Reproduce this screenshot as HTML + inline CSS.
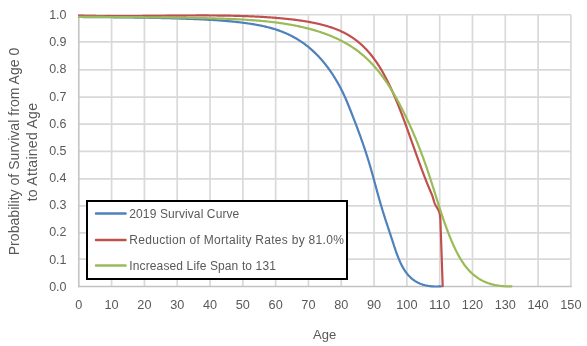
<!DOCTYPE html>
<html><head><meta charset="utf-8"><style>
html,body{margin:0;padding:0;background:#fff;}
body{width:587px;height:346px;overflow:hidden;}
svg{display:block;filter:blur(0.35px);}
text{font-family:"Liberation Sans",sans-serif;fill:#595959;}
</style></head><body>
<svg width="587" height="346" viewBox="0 0 587 346">
<rect width="587" height="346" fill="#fff"/>
<g stroke="#d9d9d9" stroke-width="1.7" fill="none">
<line x1="78.80" y1="259.20" x2="570.90" y2="259.20"/>
<line x1="78.80" y1="232.90" x2="570.90" y2="232.90"/>
<line x1="78.80" y1="205.90" x2="570.90" y2="205.90"/>
<line x1="78.80" y1="178.90" x2="570.90" y2="178.90"/>
<line x1="78.80" y1="151.35" x2="570.90" y2="151.35"/>
<line x1="78.80" y1="124.20" x2="570.90" y2="124.20"/>
<line x1="78.80" y1="97.06" x2="570.90" y2="97.06"/>
<line x1="78.80" y1="69.90" x2="570.90" y2="69.90"/>
<line x1="78.80" y1="41.90" x2="570.90" y2="41.90"/>
<line x1="78.80" y1="14.77" x2="570.90" y2="14.77"/>
<line x1="111.61" y1="14.80" x2="111.61" y2="286.50"/>
<line x1="144.41" y1="14.80" x2="144.41" y2="286.50"/>
<line x1="177.22" y1="14.80" x2="177.22" y2="286.50"/>
<line x1="210.03" y1="14.80" x2="210.03" y2="286.50"/>
<line x1="242.84" y1="14.80" x2="242.84" y2="286.50"/>
<line x1="275.64" y1="14.80" x2="275.64" y2="286.50"/>
<line x1="308.45" y1="14.80" x2="308.45" y2="286.50"/>
<line x1="341.26" y1="14.80" x2="341.26" y2="286.50"/>
<line x1="374.06" y1="14.80" x2="374.06" y2="286.50"/>
<line x1="406.87" y1="14.80" x2="406.87" y2="286.50"/>
<line x1="439.68" y1="14.80" x2="439.68" y2="286.50"/>
<line x1="472.48" y1="14.80" x2="472.48" y2="286.50"/>
<line x1="505.29" y1="14.80" x2="505.29" y2="286.50"/>
<line x1="538.10" y1="14.80" x2="538.10" y2="286.50"/>
<line x1="570.90" y1="14.80" x2="570.90" y2="286.50"/>
</g>
<line x1="78.8" y1="14" x2="78.8" y2="287.3" stroke="#c6c6c6" stroke-width="1.7"/>
<line x1="78" y1="286.5" x2="571.7" y2="286.5" stroke="#c2c2c2" stroke-width="1.7"/>
<g font-size="12" text-anchor="end">
<text x="66.5" y="290.80" textLength="17.35" lengthAdjust="spacingAndGlyphs">0.0</text>
<text x="66.5" y="263.63" textLength="17.35" lengthAdjust="spacingAndGlyphs">0.1</text>
<text x="66.5" y="236.45" textLength="17.35" lengthAdjust="spacingAndGlyphs">0.2</text>
<text x="66.5" y="209.28" textLength="17.35" lengthAdjust="spacingAndGlyphs">0.3</text>
<text x="66.5" y="182.10" textLength="17.35" lengthAdjust="spacingAndGlyphs">0.4</text>
<text x="66.5" y="154.93" textLength="17.35" lengthAdjust="spacingAndGlyphs">0.5</text>
<text x="66.5" y="127.75" textLength="17.35" lengthAdjust="spacingAndGlyphs">0.6</text>
<text x="66.5" y="100.58" textLength="17.35" lengthAdjust="spacingAndGlyphs">0.7</text>
<text x="66.5" y="73.40" textLength="17.35" lengthAdjust="spacingAndGlyphs">0.8</text>
<text x="66.5" y="46.22" textLength="17.35" lengthAdjust="spacingAndGlyphs">0.9</text>
<text x="66.5" y="19.05" textLength="17.35" lengthAdjust="spacingAndGlyphs">1.0</text>
</g>
<g font-size="12" text-anchor="middle">
<text x="78.80" y="308.8" textLength="7.07" lengthAdjust="spacingAndGlyphs">0</text>
<text x="111.61" y="308.8" textLength="14.14" lengthAdjust="spacingAndGlyphs">10</text>
<text x="144.41" y="308.8" textLength="14.14" lengthAdjust="spacingAndGlyphs">20</text>
<text x="177.22" y="308.8" textLength="14.14" lengthAdjust="spacingAndGlyphs">30</text>
<text x="210.03" y="308.8" textLength="14.14" lengthAdjust="spacingAndGlyphs">40</text>
<text x="242.84" y="308.8" textLength="14.14" lengthAdjust="spacingAndGlyphs">50</text>
<text x="275.64" y="308.8" textLength="14.14" lengthAdjust="spacingAndGlyphs">60</text>
<text x="308.45" y="308.8" textLength="14.14" lengthAdjust="spacingAndGlyphs">70</text>
<text x="341.26" y="308.8" textLength="14.14" lengthAdjust="spacingAndGlyphs">80</text>
<text x="374.06" y="308.8" textLength="14.14" lengthAdjust="spacingAndGlyphs">90</text>
<text x="406.87" y="308.8" textLength="21.22" lengthAdjust="spacingAndGlyphs">100</text>
<text x="439.68" y="308.8" textLength="21.22" lengthAdjust="spacingAndGlyphs">110</text>
<text x="472.48" y="308.8" textLength="21.22" lengthAdjust="spacingAndGlyphs">120</text>
<text x="505.29" y="308.8" textLength="21.22" lengthAdjust="spacingAndGlyphs">130</text>
<text x="538.10" y="308.8" textLength="21.22" lengthAdjust="spacingAndGlyphs">140</text>
<text x="570.90" y="308.8" textLength="21.22" lengthAdjust="spacingAndGlyphs">150</text>
</g>
<text x="324.6" y="339" font-size="13" text-anchor="middle">Age</text>
<g transform="translate(19,151.45) rotate(-90)"><text x="0" y="0" font-size="14" text-anchor="middle" textLength="207.7" lengthAdjust="spacing">Probability of Survival from Age 0</text></g>
<g transform="translate(37.3,152.2) rotate(-90)"><text x="0" y="0" font-size="14" text-anchor="middle" textLength="98.3" lengthAdjust="spacing">to Attained Age</text></g>
<g fill="none" stroke-width="2.2" stroke-linejoin="round" stroke-linecap="round">
<path stroke="#4F81BD" d="M79.00 17.00 L80.05 17.01 L81.09 17.02 L82.14 17.02 L83.19 17.03 L84.23 17.04 L85.28 17.05 L86.32 17.05 L87.37 17.06 L88.42 17.07 L89.46 17.08 L90.51 17.08 L91.55 17.09 L92.60 17.10 L93.65 17.11 L94.69 17.12 L95.74 17.12 L96.78 17.13 L97.83 17.14 L98.87 17.15 L99.92 17.16 L100.97 17.17 L102.01 17.18 L103.06 17.18 L104.10 17.19 L105.15 17.20 L106.19 17.21 L107.23 17.22 L108.28 17.23 L109.32 17.24 L110.37 17.25 L111.41 17.26 L112.46 17.27 L113.50 17.28 L114.54 17.29 L115.59 17.30 L116.63 17.31 L117.67 17.32 L118.71 17.33 L119.76 17.35 L120.80 17.36 L121.84 17.37 L122.88 17.38 L123.92 17.39 L124.97 17.41 L126.01 17.42 L127.05 17.43 L128.09 17.45 L129.13 17.46 L130.17 17.47 L131.21 17.49 L132.25 17.50 L133.29 17.52 L134.33 17.53 L135.37 17.55 L136.41 17.56 L137.44 17.58 L138.48 17.59 L139.52 17.61 L140.56 17.62 L141.59 17.64 L142.63 17.66 L143.67 17.68 L144.70 17.69 L145.74 17.71 L146.77 17.73 L147.81 17.75 L148.84 17.77 L149.88 17.79 L150.91 17.81 L151.95 17.83 L152.98 17.85 L154.01 17.87 L155.04 17.89 L156.08 17.91 L157.11 17.94 L158.14 17.96 L159.17 17.98 L160.20 18.01 L161.23 18.03 L162.26 18.05 L163.29 18.08 L164.32 18.10 L165.35 18.13 L166.37 18.16 L167.40 18.18 L168.43 18.21 L169.45 18.24 L170.48 18.27 L171.50 18.29 L172.53 18.32 L173.55 18.35 L174.58 18.38 L175.60 18.41 L176.62 18.44 L177.65 18.48 L178.67 18.51 L179.69 18.54 L180.71 18.57 L181.73 18.61 L182.75 18.64 L183.77 18.68 L184.79 18.71 L185.81 18.75 L186.83 18.78 L187.84 18.82 L188.86 18.86 L189.88 18.89 L190.89 18.93 L191.90 18.97 L192.92 19.01 L193.93 19.05 L194.94 19.10 L195.96 19.14 L196.97 19.18 L197.98 19.23 L198.98 19.27 L199.99 19.32 L201.00 19.36 L202.00 19.41 L203.01 19.46 L204.01 19.51 L205.02 19.56 L206.02 19.62 L207.02 19.67 L208.02 19.72 L209.01 19.78 L210.01 19.84 L211.01 19.90 L212.00 19.96 L212.99 20.02 L213.99 20.08 L214.98 20.14 L215.96 20.21 L216.95 20.27 L217.94 20.34 L218.92 20.41 L219.90 20.48 L220.88 20.56 L221.86 20.63 L222.84 20.71 L223.82 20.79 L224.79 20.87 L225.76 20.95 L226.74 21.03 L227.70 21.11 L228.67 21.20 L229.64 21.29 L230.60 21.38 L231.56 21.47 L232.52 21.57 L233.48 21.66 L234.44 21.76 L235.39 21.86 L236.34 21.96 L237.29 22.07 L238.24 22.17 L239.18 22.28 L240.13 22.39 L241.07 22.51 L242.01 22.62 L242.94 22.74 L243.88 22.86 L244.81 22.98 L245.74 23.11 L246.66 23.23 L247.59 23.36 L248.51 23.50 L249.43 23.63 L250.34 23.77 L251.26 23.91 L252.17 24.05 L253.07 24.20 L253.98 24.35 L254.88 24.50 L255.78 24.66 L256.67 24.82 L257.56 24.98 L258.45 25.15 L259.33 25.32 L260.21 25.49 L261.09 25.67 L261.96 25.85 L262.83 26.04 L263.70 26.23 L264.56 26.42 L265.41 26.62 L266.27 26.82 L267.11 27.02 L267.96 27.23 L268.80 27.45 L269.63 27.67 L270.47 27.89 L271.29 28.12 L272.11 28.35 L272.93 28.58 L273.74 28.83 L274.55 29.07 L275.35 29.32 L276.15 29.58 L276.94 29.84 L277.73 30.11 L278.51 30.38 L279.29 30.65 L280.06 30.94 L280.83 31.22 L281.59 31.51 L282.35 31.81 L283.11 32.11 L283.85 32.42 L284.60 32.73 L285.34 33.04 L286.07 33.36 L286.80 33.69 L287.52 34.02 L288.24 34.35 L288.96 34.69 L289.67 35.03 L290.37 35.38 L291.07 35.74 L291.77 36.09 L292.46 36.45 L293.15 36.82 L293.83 37.19 L294.51 37.57 L295.18 37.95 L295.85 38.33 L296.52 38.72 L297.18 39.12 L297.83 39.51 L298.49 39.92 L299.13 40.32 L299.78 40.74 L300.41 41.15 L301.05 41.57 L301.68 41.99 L302.30 42.42 L302.92 42.86 L303.54 43.29 L304.15 43.73 L304.76 44.18 L305.37 44.63 L305.97 45.08 L306.57 45.54 L307.16 46.00 L307.75 46.46 L308.33 46.93 L308.91 47.41 L309.49 47.89 L310.06 48.37 L310.63 48.85 L311.19 49.34 L311.75 49.83 L312.31 50.33 L312.86 50.83 L313.41 51.34 L313.96 51.85 L314.50 52.36 L315.04 52.87 L315.57 53.39 L316.10 53.92 L316.63 54.45 L317.15 54.98 L317.67 55.51 L318.19 56.05 L318.70 56.59 L319.21 57.14 L319.71 57.68 L320.21 58.24 L320.71 58.79 L321.21 59.35 L321.70 59.91 L322.19 60.48 L322.67 61.05 L323.15 61.62 L323.63 62.20 L324.11 62.78 L324.58 63.36 L325.05 63.94 L325.51 64.53 L325.98 65.12 L326.43 65.72 L326.89 66.32 L327.34 66.92 L327.79 67.52 L328.24 68.13 L328.68 68.74 L329.13 69.35 L329.56 69.97 L330.00 70.58 L330.43 71.21 L330.86 71.83 L331.29 72.46 L331.71 73.09 L332.13 73.72 L332.55 74.36 L332.97 74.99 L333.38 75.63 L333.79 76.28 L334.20 76.92 L334.61 77.57 L335.01 78.22 L335.41 78.88 L335.81 79.53 L336.20 80.19 L336.59 80.85 L336.98 81.52 L337.37 82.18 L337.76 82.85 L338.14 83.52 L338.52 84.20 L338.89 84.88 L339.27 85.56 L339.64 86.24 L340.01 86.93 L340.37 87.61 L340.73 88.31 L341.09 89.00 L341.45 89.70 L341.81 90.40 L342.16 91.10 L342.50 91.80 L342.85 92.51 L343.19 93.22 L343.53 93.94 L343.87 94.66 L344.20 95.38 L344.53 96.10 L344.86 96.83 L345.19 97.56 L345.51 98.29 L345.83 99.02 L346.14 99.76 L346.46 100.50 L346.77 101.24 L347.08 101.98 L347.39 102.73 L347.70 103.48 L348.00 104.22 L348.31 104.97 L348.61 105.73 L348.91 106.48 L349.21 107.23 L349.51 107.98 L349.81 108.74 L350.11 109.49 L350.41 110.24 L350.71 111.00 L351.01 111.75 L351.31 112.51 L351.61 113.26 L351.91 114.02 L352.20 114.78 L352.50 115.53 L352.80 116.29 L353.09 117.05 L353.39 117.81 L353.68 118.57 L353.98 119.33 L354.27 120.09 L354.56 120.85 L354.86 121.61 L355.15 122.37 L355.44 123.13 L355.73 123.90 L356.02 124.66 L356.31 125.43 L356.60 126.19 L356.89 126.96 L357.18 127.72 L357.46 128.49 L357.75 129.26 L358.03 130.03 L358.32 130.79 L358.60 131.56 L358.89 132.33 L359.17 133.11 L359.45 133.88 L359.73 134.65 L360.01 135.42 L360.29 136.20 L360.57 136.97 L360.85 137.75 L361.12 138.53 L361.40 139.31 L361.68 140.08 L361.95 140.86 L362.22 141.64 L362.50 142.43 L362.77 143.21 L363.04 143.99 L363.31 144.78 L363.58 145.56 L363.84 146.35 L364.11 147.13 L364.38 147.92 L364.64 148.71 L364.91 149.50 L365.17 150.29 L365.43 151.09 L365.69 151.88 L365.95 152.67 L366.21 153.47 L366.47 154.27 L366.72 155.06 L366.98 155.86 L367.23 156.66 L367.48 157.46 L367.73 158.27 L367.98 159.07 L368.23 159.87 L368.48 160.68 L368.73 161.49 L368.97 162.30 L369.22 163.11 L369.46 163.92 L369.70 164.73 L369.94 165.54 L370.18 166.36 L370.42 167.17 L370.66 167.99 L370.89 168.81 L371.13 169.63 L371.36 170.45 L371.59 171.27 L371.82 172.09 L372.06 172.92 L372.29 173.74 L372.52 174.56 L372.74 175.39 L372.97 176.21 L373.20 177.04 L373.43 177.87 L373.65 178.70 L373.88 179.52 L374.11 180.35 L374.33 181.18 L374.56 182.01 L374.78 182.84 L375.01 183.67 L375.23 184.50 L375.46 185.32 L375.68 186.15 L375.90 186.98 L376.13 187.81 L376.35 188.64 L376.58 189.47 L376.81 190.30 L377.03 191.13 L377.26 191.95 L377.48 192.78 L377.71 193.61 L377.94 194.43 L378.17 195.26 L378.40 196.08 L378.63 196.91 L378.86 197.73 L379.09 198.56 L379.32 199.38 L379.55 200.20 L379.79 201.02 L380.02 201.84 L380.26 202.66 L380.49 203.47 L380.73 204.29 L380.97 205.10 L381.21 205.92 L381.45 206.73 L381.70 207.54 L381.94 208.35 L382.19 209.16 L382.43 209.97 L382.68 210.77 L382.93 211.58 L383.18 212.38 L383.43 213.18 L383.68 213.99 L383.93 214.79 L384.19 215.59 L384.44 216.39 L384.70 217.19 L384.95 217.99 L385.21 218.78 L385.46 219.58 L385.72 220.38 L385.98 221.17 L386.24 221.97 L386.50 222.76 L386.76 223.56 L387.02 224.35 L387.28 225.14 L387.54 225.94 L387.80 226.73 L388.06 227.52 L388.32 228.31 L388.59 229.11 L388.85 229.90 L389.11 230.69 L389.37 231.48 L389.63 232.27 L389.90 233.07 L390.16 233.86 L390.42 234.65 L390.68 235.44 L390.94 236.23 L391.20 237.03 L391.47 237.82 L391.73 238.61 L391.99 239.41 L392.25 240.20 L392.51 240.99 L392.77 241.79 L393.03 242.58 L393.28 243.38 L393.54 244.17 L393.80 244.97 L394.06 245.76 L394.32 246.56 L394.58 247.35 L394.85 248.14 L395.11 248.93 L395.38 249.72 L395.65 250.50 L395.92 251.29 L396.19 252.07 L396.46 252.85 L396.74 253.62 L397.02 254.39 L397.31 255.16 L397.60 255.93 L397.89 256.69 L398.19 257.45 L398.49 258.20 L398.79 258.95 L399.10 259.69 L399.42 260.43 L399.74 261.17 L400.06 261.89 L400.40 262.62 L400.73 263.33 L401.08 264.04 L401.43 264.74 L401.79 265.44 L402.15 266.13 L402.52 266.81 L402.90 267.49 L403.29 268.16 L403.68 268.82 L404.08 269.47 L404.49 270.11 L404.91 270.74 L405.34 271.37 L405.78 271.99 L406.23 272.59 L406.68 273.19 L407.15 273.78 L407.63 274.35 L408.11 274.92 L408.61 275.48 L409.12 276.02 L409.64 276.56 L410.17 277.08 L410.71 277.60 L411.26 278.10 L411.83 278.58 L412.41 279.06 L413.00 279.52 L413.60 279.98 L414.21 280.41 L414.84 280.84 L415.49 281.25 L416.14 281.65 L416.81 282.03 L417.49 282.40 L418.19 282.76 L418.91 283.10 L419.63 283.43 L420.38 283.74 L421.13 284.03 L421.91 284.31 L422.70 284.58 L423.50 284.83 L424.32 285.06 L425.16 285.28 L426.01 285.48 L426.89 285.66 L427.77 285.82 L428.68 285.97 L429.60 286.10 L430.55 286.21 L431.51 286.31 L432.48 286.38 L433.48 286.44 L434.50 286.48 L435.53 286.50 L436.59 286.50 L437.66 286.48 L438.75 286.44 L439.87 286.38 L441.00 286.30"/>
<path stroke="#C0504D" d="M79.01 15.59 L79.87 15.62 L80.74 15.64 L81.60 15.67 L82.47 15.69 L83.34 15.72 L84.21 15.74 L85.08 15.76 L85.95 15.78 L86.82 15.80 L87.69 15.82 L88.57 15.84 L89.44 15.86 L90.31 15.87 L91.19 15.89 L92.06 15.91 L92.94 15.92 L93.82 15.94 L94.69 15.95 L95.57 15.96 L96.45 15.98 L97.33 15.99 L98.21 16.00 L99.09 16.01 L99.97 16.02 L100.85 16.03 L101.74 16.04 L102.62 16.05 L103.50 16.06 L104.39 16.06 L105.27 16.07 L106.16 16.08 L107.04 16.08 L107.93 16.09 L108.81 16.09 L109.70 16.09 L110.59 16.10 L111.48 16.10 L112.37 16.10 L113.26 16.11 L114.14 16.11 L115.03 16.11 L115.93 16.11 L116.82 16.11 L117.71 16.11 L118.60 16.11 L119.49 16.11 L120.38 16.11 L121.28 16.11 L122.17 16.10 L123.06 16.10 L123.96 16.10 L124.85 16.10 L125.75 16.09 L126.64 16.09 L127.54 16.08 L128.43 16.08 L129.33 16.07 L130.23 16.07 L131.12 16.06 L132.02 16.06 L132.92 16.05 L133.82 16.05 L134.71 16.04 L135.61 16.03 L136.51 16.03 L137.41 16.02 L138.31 16.01 L139.21 16.00 L140.11 16.00 L141.00 15.99 L141.90 15.98 L142.80 15.97 L143.70 15.96 L144.60 15.95 L145.50 15.94 L146.40 15.94 L147.31 15.93 L148.21 15.92 L149.11 15.91 L150.01 15.90 L150.91 15.89 L151.81 15.88 L152.71 15.87 L153.61 15.86 L154.51 15.85 L155.41 15.84 L156.32 15.83 L157.22 15.82 L158.12 15.81 L159.02 15.80 L159.92 15.79 L160.82 15.78 L161.72 15.77 L162.63 15.76 L163.53 15.75 L164.43 15.74 L165.33 15.73 L166.23 15.72 L167.13 15.71 L168.03 15.70 L168.93 15.69 L169.84 15.68 L170.74 15.67 L171.64 15.66 L172.54 15.65 L173.44 15.64 L174.34 15.63 L175.24 15.62 L176.14 15.61 L177.04 15.61 L177.94 15.60 L178.84 15.59 L179.74 15.58 L180.64 15.57 L181.54 15.57 L182.43 15.56 L183.33 15.55 L184.23 15.54 L185.13 15.54 L186.03 15.53 L186.93 15.52 L187.82 15.52 L188.72 15.51 L189.62 15.51 L190.51 15.50 L191.41 15.50 L192.31 15.49 L193.20 15.49 L194.10 15.48 L194.99 15.48 L195.89 15.48 L196.78 15.47 L197.67 15.47 L198.57 15.47 L199.46 15.47 L200.35 15.47 L201.25 15.47 L202.14 15.46 L203.03 15.46 L203.92 15.46 L204.81 15.47 L205.70 15.47 L206.59 15.47 L207.48 15.47 L208.37 15.47 L209.26 15.48 L210.14 15.48 L211.03 15.48 L211.92 15.49 L212.81 15.49 L213.69 15.50 L214.58 15.50 L215.46 15.51 L216.35 15.52 L217.23 15.53 L218.11 15.53 L218.99 15.54 L219.88 15.55 L220.76 15.56 L221.64 15.57 L222.52 15.58 L223.40 15.60 L224.28 15.61 L225.16 15.62 L226.03 15.63 L226.91 15.65 L227.79 15.66 L228.66 15.68 L229.54 15.70 L230.41 15.71 L231.28 15.73 L232.16 15.75 L233.03 15.77 L233.90 15.79 L234.77 15.81 L235.64 15.83 L236.51 15.85 L237.38 15.88 L238.25 15.90 L239.11 15.92 L239.98 15.95 L240.84 15.98 L241.71 16.00 L242.57 16.03 L243.43 16.06 L244.30 16.09 L245.16 16.12 L246.02 16.15 L246.88 16.18 L247.74 16.21 L248.59 16.25 L249.45 16.28 L250.31 16.32 L251.16 16.35 L252.02 16.39 L252.87 16.43 L253.72 16.47 L254.57 16.51 L255.42 16.55 L256.27 16.59 L257.12 16.63 L257.97 16.68 L258.81 16.72 L259.66 16.77 L260.50 16.82 L261.35 16.86 L262.19 16.91 L263.03 16.96 L263.87 17.01 L264.71 17.07 L265.55 17.12 L266.39 17.17 L267.22 17.23 L268.06 17.28 L268.89 17.34 L269.72 17.40 L270.56 17.46 L271.39 17.52 L272.22 17.58 L273.04 17.65 L273.87 17.71 L274.70 17.77 L275.52 17.84 L276.35 17.91 L277.17 17.98 L277.99 18.05 L278.81 18.12 L279.63 18.19 L280.45 18.26 L281.26 18.34 L282.08 18.41 L282.89 18.49 L283.71 18.57 L284.52 18.65 L285.33 18.73 L286.14 18.81 L286.95 18.90 L287.75 18.98 L288.56 19.07 L289.36 19.16 L290.16 19.25 L290.96 19.34 L291.76 19.43 L292.56 19.52 L293.36 19.62 L294.15 19.71 L294.94 19.81 L295.73 19.91 L296.52 20.02 L297.31 20.12 L298.10 20.23 L298.88 20.33 L299.66 20.44 L300.44 20.55 L301.22 20.67 L302.00 20.78 L302.77 20.90 L303.54 21.02 L304.31 21.14 L305.08 21.26 L305.85 21.39 L306.61 21.52 L307.37 21.65 L308.13 21.78 L308.89 21.91 L309.64 22.05 L310.40 22.19 L311.15 22.33 L311.89 22.47 L312.64 22.62 L313.38 22.77 L314.12 22.92 L314.86 23.07 L315.59 23.23 L316.33 23.39 L317.06 23.55 L317.78 23.71 L318.51 23.88 L319.23 24.05 L319.95 24.22 L320.67 24.39 L321.38 24.57 L322.09 24.75 L322.80 24.94 L323.50 25.12 L324.20 25.31 L324.90 25.51 L325.60 25.70 L326.29 25.90 L326.98 26.10 L327.67 26.31 L328.35 26.51 L329.03 26.73 L329.71 26.94 L330.38 27.16 L331.05 27.38 L331.72 27.60 L332.38 27.83 L333.04 28.06 L333.70 28.30 L334.35 28.53 L335.00 28.78 L335.65 29.02 L336.29 29.27 L336.93 29.52 L337.57 29.78 L338.20 30.04 L338.83 30.30 L339.45 30.57 L340.07 30.84 L340.69 31.11 L341.30 31.39 L341.91 31.67 L342.51 31.96 L343.12 32.25 L343.71 32.54 L344.31 32.84 L344.90 33.14 L345.48 33.45 L346.06 33.76 L346.64 34.07 L347.21 34.39 L347.78 34.72 L348.34 35.04 L348.90 35.37 L349.46 35.71 L350.01 36.05 L350.56 36.39 L351.11 36.74 L351.65 37.09 L352.18 37.44 L352.72 37.80 L353.24 38.16 L353.77 38.53 L354.29 38.90 L354.81 39.28 L355.32 39.65 L355.83 40.03 L356.34 40.42 L356.84 40.81 L357.34 41.20 L357.83 41.60 L358.33 42.00 L358.81 42.40 L359.30 42.81 L359.78 43.22 L360.26 43.63 L360.73 44.05 L361.20 44.47 L361.67 44.89 L362.13 45.32 L362.59 45.75 L363.05 46.18 L363.51 46.62 L363.96 47.06 L364.40 47.50 L364.85 47.95 L365.29 48.40 L365.73 48.86 L366.16 49.31 L366.60 49.77 L367.02 50.23 L367.45 50.70 L367.87 51.17 L368.29 51.64 L368.71 52.11 L369.12 52.59 L369.53 53.07 L369.94 53.55 L370.35 54.04 L370.75 54.53 L371.15 55.02 L371.55 55.52 L371.94 56.01 L372.33 56.51 L372.72 57.01 L373.11 57.52 L373.49 58.03 L373.87 58.54 L374.25 59.05 L374.63 59.57 L375.00 60.08 L375.37 60.60 L375.74 61.13 L376.10 61.65 L376.47 62.18 L376.83 62.71 L377.19 63.24 L377.54 63.78 L377.90 64.32 L378.25 64.86 L378.60 65.40 L378.95 65.94 L379.29 66.49 L379.64 67.03 L379.98 67.59 L380.32 68.14 L380.65 68.69 L380.99 69.25 L381.32 69.81 L381.65 70.37 L381.98 70.93 L382.31 71.49 L382.63 72.06 L382.95 72.63 L383.28 73.20 L383.60 73.77 L383.91 74.35 L384.23 74.92 L384.54 75.50 L384.86 76.08 L385.17 76.66 L385.47 77.24 L385.78 77.82 L386.09 78.41 L386.39 79.00 L386.69 79.59 L387.00 80.18 L387.29 80.77 L387.59 81.36 L387.89 81.96 L388.18 82.55 L388.48 83.15 L388.77 83.75 L389.06 84.35 L389.35 84.95 L389.64 85.55 L389.93 86.16 L390.21 86.76 L390.50 87.37 L390.78 87.98 L391.07 88.58 L391.35 89.19 L391.63 89.81 L391.91 90.42 L392.18 91.03 L392.46 91.65 L392.74 92.26 L393.01 92.88 L393.29 93.49 L393.56 94.11 L393.83 94.73 L394.10 95.35 L394.37 95.97 L394.64 96.60 L394.91 97.22 L395.18 97.84 L395.44 98.47 L395.71 99.10 L395.97 99.72 L396.23 100.35 L396.50 100.98 L396.76 101.61 L397.02 102.24 L397.28 102.87 L397.54 103.50 L397.80 104.14 L398.05 104.77 L398.31 105.40 L398.57 106.04 L398.82 106.68 L399.08 107.31 L399.33 107.95 L399.58 108.59 L399.83 109.23 L400.09 109.87 L400.34 110.51 L400.59 111.15 L400.84 111.79 L401.09 112.43 L401.33 113.08 L401.58 113.72 L401.83 114.37 L402.08 115.01 L402.32 115.66 L402.57 116.30 L402.81 116.95 L403.05 117.60 L403.30 118.24 L403.54 118.89 L403.78 119.54 L404.03 120.19 L404.27 120.84 L404.51 121.49 L404.75 122.14 L404.99 122.79 L405.23 123.44 L405.47 124.09 L405.71 124.75 L405.95 125.40 L406.19 126.05 L406.42 126.71 L406.66 127.36 L406.90 128.01 L407.14 128.67 L407.37 129.32 L407.61 129.98 L407.84 130.63 L408.08 131.29 L408.32 131.94 L408.55 132.60 L408.79 133.26 L409.02 133.91 L409.25 134.57 L409.49 135.23 L409.72 135.88 L409.96 136.54 L410.19 137.20 L410.42 137.86 L410.66 138.51 L410.89 139.17 L411.13 139.83 L411.36 140.49 L411.59 141.15 L411.83 141.80 L412.06 142.46 L412.29 143.12 L412.52 143.78 L412.76 144.44 L412.99 145.10 L413.22 145.75 L413.46 146.41 L413.69 147.07 L413.92 147.73 L414.16 148.39 L414.39 149.04 L414.62 149.70 L414.86 150.36 L415.09 151.02 L415.32 151.68 L415.56 152.33 L415.79 152.99 L416.03 153.65 L416.26 154.30 L416.49 154.96 L416.73 155.62 L416.96 156.27 L417.20 156.93 L417.43 157.59 L417.67 158.24 L417.91 158.90 L418.14 159.55 L418.38 160.21 L418.62 160.86 L418.85 161.52 L419.09 162.17 L419.33 162.82 L419.57 163.48 L419.81 164.13 L420.05 164.78 L420.28 165.43 L420.52 166.08 L420.76 166.73 L421.01 167.39 L421.25 168.04 L421.49 168.69 L421.73 169.33 L421.97 169.98 L422.22 170.63 L422.46 171.28 L422.70 171.93 L422.95 172.57 L423.19 173.22 L423.44 173.86 L423.69 174.51 L423.93 175.15 L424.18 175.80 L424.43 176.44 L424.68 177.08 L424.93 177.72 L425.18 178.37 L425.43 179.01 L425.68 179.65 L425.93 180.28 L426.18 180.92 L426.44 181.56 L426.69 182.20 L426.95 182.83 L427.20 183.47 L427.46 184.10 L427.72 184.74 L427.98 185.37 L428.24 186.00 L428.50 186.63 L428.76 187.27 L429.02 187.89 L429.28 188.52 L429.54 189.15 L429.81 189.78 L430.07 190.40 L430.34 191.03 L430.61 191.65 L431.00 192.57 L431.40 193.49 L431.78 194.41 L432.15 195.34 L432.49 196.28 L432.81 197.22 L433.10 198.18 L433.38 199.14 L433.66 200.10 L433.94 201.06 L434.24 202.01 L434.56 202.95 L434.94 203.86 L435.37 204.76 L435.84 205.63 L436.34 206.50 L436.85 207.36 L437.36 208.21 L437.87 209.07 L438.35 209.94 L438.78 210.83 L439.15 211.74 L439.44 212.68 L439.66 213.64 L439.83 214.62 L439.98 215.61 L440.10 216.60 L440.21 217.59 L440.29 218.59 L440.35 219.58 L440.40 220.58 L440.44 221.58 L440.48 222.58 L440.51 223.58 L440.55 224.58 L440.58 225.58 L440.62 226.58 L440.65 227.58 L440.69 228.58 L440.72 229.57 L440.76 230.57 L440.79 231.57 L440.83 232.57 L440.86 233.57 L440.90 234.57 L440.93 235.57 L440.97 236.57 L441.00 237.57 L441.04 238.57 L441.07 239.57 L441.11 240.57 L441.14 241.57 L441.18 242.57 L441.21 243.57 L441.25 244.57 L441.28 245.56 L441.32 246.56 L441.35 247.56 L441.39 248.56 L441.42 249.56 L441.46 250.56 L441.49 251.56 L441.53 252.56 L441.56 253.56 L441.60 254.56 L441.63 255.56 L441.67 256.56 L441.70 257.56 L441.74 258.56 L441.77 259.56 L441.81 260.56 L441.84 261.56 L441.88 262.55 L441.91 263.55 L441.94 264.55 L441.98 265.55 L442.01 266.55 L442.05 267.55 L442.08 268.55 L442.12 269.55 L442.15 270.55 L442.19 271.55 L442.22 272.55 L442.26 273.55 L442.29 274.55 L442.33 275.55 L442.36 276.55 L442.40 277.55 L442.43 278.54 L442.47 279.54 L442.50 280.54 L442.54 281.54 L442.57 282.54 L442.61 283.53 L442.64 284.51 L442.67 285.48 L442.70 286.20"/>
<path stroke="#9BBB59" d="M79.00 16.80 L80.16 16.81 L81.33 16.82 L82.49 16.83 L83.65 16.84 L84.82 16.84 L85.98 16.85 L87.14 16.86 L88.31 16.87 L89.47 16.88 L90.63 16.89 L91.80 16.89 L92.96 16.90 L94.13 16.91 L95.29 16.92 L96.46 16.92 L97.62 16.93 L98.79 16.94 L99.95 16.95 L101.11 16.95 L102.28 16.96 L103.44 16.97 L104.61 16.97 L105.77 16.98 L106.94 16.99 L108.10 16.99 L109.27 17.00 L110.43 17.01 L111.60 17.01 L112.76 17.02 L113.93 17.03 L115.10 17.04 L116.26 17.04 L117.43 17.05 L118.59 17.06 L119.76 17.06 L120.92 17.07 L122.08 17.08 L123.25 17.08 L124.41 17.09 L125.58 17.10 L126.74 17.11 L127.91 17.11 L129.07 17.12 L130.24 17.13 L131.40 17.14 L132.56 17.15 L133.73 17.15 L134.89 17.16 L136.06 17.17 L137.22 17.18 L138.38 17.19 L139.55 17.20 L140.71 17.20 L141.87 17.21 L143.03 17.22 L144.20 17.23 L145.36 17.24 L146.52 17.25 L147.68 17.26 L148.84 17.27 L150.01 17.28 L151.17 17.29 L152.33 17.30 L153.49 17.32 L154.65 17.33 L155.81 17.34 L156.97 17.35 L158.13 17.36 L159.29 17.38 L160.45 17.39 L161.61 17.40 L162.77 17.41 L163.92 17.43 L165.08 17.44 L166.24 17.46 L167.40 17.47 L168.56 17.49 L169.71 17.50 L170.87 17.52 L172.02 17.53 L173.18 17.55 L174.34 17.56 L175.49 17.58 L176.65 17.60 L177.80 17.62 L178.95 17.63 L180.11 17.65 L181.26 17.67 L182.41 17.69 L183.57 17.71 L184.72 17.73 L185.87 17.75 L187.02 17.77 L188.17 17.79 L189.32 17.82 L190.47 17.84 L191.62 17.86 L192.77 17.88 L193.92 17.91 L195.06 17.93 L196.21 17.96 L197.36 17.98 L198.50 18.01 L199.65 18.03 L200.80 18.06 L201.94 18.09 L203.08 18.11 L204.23 18.14 L205.37 18.17 L206.51 18.20 L207.66 18.23 L208.80 18.26 L209.94 18.29 L211.08 18.32 L212.22 18.36 L213.36 18.39 L214.50 18.42 L215.64 18.45 L216.77 18.49 L217.91 18.53 L219.05 18.56 L220.18 18.60 L221.31 18.64 L222.45 18.67 L223.58 18.71 L224.71 18.76 L225.84 18.80 L226.97 18.84 L228.10 18.88 L229.23 18.93 L230.35 18.97 L231.48 19.02 L232.60 19.07 L233.72 19.12 L234.84 19.17 L235.96 19.22 L237.08 19.28 L238.19 19.33 L239.31 19.39 L240.42 19.45 L241.53 19.51 L242.65 19.57 L243.75 19.64 L244.86 19.70 L245.97 19.77 L247.07 19.84 L248.17 19.91 L249.27 19.98 L250.37 20.05 L251.46 20.13 L252.56 20.21 L253.65 20.29 L254.74 20.37 L255.83 20.45 L256.91 20.54 L257.99 20.63 L259.08 20.72 L260.15 20.81 L261.23 20.91 L262.31 21.01 L263.38 21.11 L264.45 21.21 L265.51 21.31 L266.58 21.42 L267.64 21.53 L268.70 21.64 L269.76 21.76 L270.81 21.88 L271.86 22.00 L272.91 22.12 L273.96 22.25 L275.00 22.38 L276.04 22.51 L277.08 22.64 L278.11 22.78 L279.14 22.92 L280.17 23.06 L281.20 23.21 L282.22 23.36 L283.24 23.51 L284.25 23.67 L285.27 23.83 L286.28 23.99 L287.28 24.16 L288.29 24.32 L289.29 24.50 L290.29 24.67 L291.28 24.85 L292.27 25.03 L293.26 25.21 L294.24 25.40 L295.22 25.59 L296.20 25.79 L297.17 25.99 L298.14 26.19 L299.11 26.39 L300.07 26.60 L301.03 26.81 L301.99 27.03 L302.94 27.25 L303.89 27.47 L304.84 27.70 L305.78 27.93 L306.72 28.16 L307.66 28.40 L308.59 28.64 L309.51 28.88 L310.44 29.13 L311.36 29.38 L312.28 29.63 L313.19 29.89 L314.10 30.15 L315.01 30.42 L315.91 30.69 L316.80 30.96 L317.70 31.24 L318.59 31.52 L319.48 31.81 L320.36 32.10 L321.24 32.39 L322.11 32.69 L322.98 32.99 L323.85 33.30 L324.71 33.61 L325.57 33.92 L326.43 34.24 L327.28 34.56 L328.12 34.88 L328.97 35.21 L329.80 35.55 L330.64 35.88 L331.47 36.23 L332.29 36.57 L333.12 36.92 L333.93 37.28 L334.75 37.64 L335.55 38.00 L336.36 38.37 L337.16 38.74 L337.96 39.11 L338.75 39.49 L339.53 39.88 L340.32 40.27 L341.09 40.66 L341.87 41.06 L342.64 41.46 L343.40 41.87 L344.16 42.28 L344.92 42.70 L345.67 43.12 L346.42 43.54 L347.16 43.97 L347.90 44.41 L348.63 44.85 L349.36 45.29 L350.08 45.74 L350.80 46.19 L351.52 46.65 L352.23 47.11 L352.93 47.58 L353.63 48.05 L354.33 48.53 L355.02 49.01 L355.70 49.49 L356.38 49.99 L357.06 50.48 L357.73 50.98 L358.39 51.49 L359.06 52.00 L359.71 52.51 L360.36 53.03 L361.01 53.56 L361.65 54.09 L362.29 54.62 L362.93 55.16 L363.56 55.70 L364.18 56.25 L364.80 56.80 L365.42 57.36 L366.03 57.92 L366.63 58.48 L367.24 59.05 L367.84 59.63 L368.43 60.20 L369.02 60.79 L369.61 61.37 L370.19 61.96 L370.77 62.56 L371.34 63.15 L371.91 63.76 L372.48 64.36 L373.04 64.97 L373.60 65.58 L374.15 66.20 L374.70 66.82 L375.25 67.45 L375.79 68.08 L376.33 68.71 L376.87 69.35 L377.40 69.98 L377.93 70.63 L378.46 71.27 L378.98 71.92 L379.50 72.58 L380.01 73.23 L380.52 73.89 L381.03 74.56 L381.54 75.22 L382.04 75.89 L382.54 76.57 L383.03 77.24 L383.53 77.92 L384.02 78.60 L384.50 79.29 L384.99 79.98 L385.47 80.67 L385.94 81.36 L386.42 82.06 L386.89 82.76 L387.36 83.46 L387.83 84.17 L388.29 84.88 L388.75 85.59 L389.21 86.30 L389.66 87.02 L390.12 87.74 L390.57 88.46 L391.02 89.18 L391.46 89.91 L391.91 90.64 L392.35 91.37 L392.78 92.10 L393.22 92.84 L393.65 93.58 L394.09 94.32 L394.52 95.06 L394.94 95.81 L395.37 96.55 L395.79 97.30 L396.21 98.05 L396.63 98.80 L397.05 99.56 L397.46 100.32 L397.88 101.07 L398.29 101.84 L398.70 102.60 L399.11 103.36 L399.51 104.13 L399.92 104.89 L400.32 105.66 L400.72 106.43 L401.12 107.21 L401.52 107.98 L401.92 108.76 L402.31 109.53 L402.70 110.31 L403.10 111.09 L403.49 111.87 L403.88 112.65 L404.26 113.44 L404.65 114.22 L405.04 115.01 L405.42 115.80 L405.80 116.59 L406.18 117.38 L406.56 118.17 L406.94 118.97 L407.32 119.76 L407.69 120.56 L408.06 121.36 L408.44 122.16 L408.81 122.96 L409.18 123.76 L409.54 124.57 L409.91 125.37 L410.27 126.18 L410.64 126.99 L411.00 127.80 L411.36 128.61 L411.72 129.42 L412.08 130.24 L412.43 131.05 L412.79 131.87 L413.14 132.69 L413.50 133.51 L413.85 134.33 L414.20 135.15 L414.55 135.97 L414.89 136.80 L415.24 137.62 L415.58 138.45 L415.93 139.28 L416.27 140.11 L416.61 140.94 L416.95 141.77 L417.29 142.61 L417.62 143.44 L417.96 144.28 L418.29 145.12 L418.63 145.96 L418.96 146.80 L419.29 147.64 L419.62 148.48 L419.94 149.33 L420.27 150.17 L420.59 151.02 L420.92 151.87 L421.24 152.72 L421.56 153.57 L421.88 154.42 L422.20 155.27 L422.52 156.13 L422.84 156.98 L423.15 157.84 L423.46 158.70 L423.78 159.56 L424.09 160.42 L424.40 161.28 L424.71 162.14 L425.02 163.00 L425.32 163.87 L425.63 164.74 L425.93 165.60 L426.23 166.47 L426.54 167.34 L426.84 168.21 L427.14 169.09 L427.44 169.96 L427.73 170.84 L428.03 171.71 L428.32 172.59 L428.62 173.47 L428.91 174.35 L429.20 175.23 L429.49 176.11 L429.78 176.99 L430.07 177.87 L430.36 178.76 L430.64 179.64 L430.93 180.53 L431.22 181.42 L431.50 182.30 L431.78 183.19 L432.07 184.08 L432.35 184.97 L432.63 185.86 L432.91 186.75 L433.20 187.64 L433.48 188.53 L433.76 189.42 L434.04 190.31 L434.32 191.20 L434.60 192.10 L434.88 192.99 L435.16 193.88 L435.44 194.77 L435.72 195.66 L436.00 196.55 L436.28 197.45 L436.56 198.34 L436.84 199.23 L437.12 200.12 L437.40 201.01 L437.69 201.90 L437.97 202.79 L438.25 203.68 L438.53 204.57 L438.82 205.46 L439.10 206.34 L439.39 207.23 L439.67 208.12 L439.96 209.00 L440.25 209.89 L440.53 210.77 L440.82 211.66 L441.11 212.54 L441.40 213.42 L441.70 214.30 L441.99 215.18 L442.28 216.06 L442.58 216.93 L442.87 217.81 L443.17 218.68 L443.47 219.55 L443.77 220.43 L444.07 221.30 L444.38 222.16 L444.68 223.03 L444.99 223.90 L445.30 224.76 L445.61 225.62 L445.92 226.48 L446.23 227.34 L446.55 228.20 L446.86 229.05 L447.18 229.91 L447.50 230.76 L447.83 231.61 L448.15 232.45 L448.48 233.30 L448.81 234.14 L449.14 234.98 L449.47 235.82 L449.81 236.66 L450.15 237.49 L450.49 238.32 L450.83 239.15 L451.18 239.98 L451.52 240.80 L451.88 241.62 L452.23 242.44 L452.58 243.26 L452.94 244.07 L453.30 244.88 L453.67 245.69 L454.04 246.49 L454.41 247.29 L454.78 248.09 L455.16 248.89 L455.54 249.68 L455.92 250.47 L456.31 251.25 L456.70 252.03 L457.10 252.81 L457.50 253.58 L457.90 254.34 L458.31 255.11 L458.73 255.86 L459.15 256.61 L459.58 257.36 L460.01 258.10 L460.44 258.84 L460.89 259.57 L461.33 260.29 L461.79 261.01 L462.25 261.72 L462.72 262.42 L463.19 263.12 L463.67 263.81 L464.16 264.50 L464.65 265.17 L465.16 265.84 L465.67 266.51 L466.18 267.16 L466.71 267.81 L467.24 268.44 L467.78 269.08 L468.33 269.70 L468.89 270.31 L469.46 270.92 L470.03 271.51 L470.62 272.10 L471.21 272.68 L471.82 273.24 L472.43 273.80 L473.05 274.35 L473.69 274.89 L474.33 275.42 L474.98 275.94 L475.65 276.45 L476.32 276.94 L477.01 277.43 L477.70 277.91 L478.41 278.37 L479.13 278.83 L479.86 279.27 L480.60 279.70 L481.35 280.12 L482.12 280.52 L482.90 280.92 L483.69 281.30 L484.49 281.67 L485.30 282.03 L486.13 282.37 L486.97 282.70 L487.82 283.02 L488.69 283.32 L489.57 283.62 L490.47 283.89 L491.38 284.16 L492.30 284.41 L493.23 284.64 L494.19 284.86 L495.15 285.07 L496.13 285.26 L497.13 285.44 L498.14 285.60 L499.16 285.75 L500.20 285.88 L501.26 285.99 L502.33 286.09 L503.42 286.18 L504.52 286.25 L505.64 286.30 L506.78 286.33 L507.93 286.35 L509.10 286.35 L510.29 286.34 L511.50 286.30"/>
</g>
<rect x="87" y="201" width="260" height="78" fill="#fff" stroke="#000" stroke-width="2"/>
<g stroke-width="2.5" stroke-linecap="round">
<line x1="96" y1="213.6" x2="125.5" y2="213.6" stroke="#4F81BD"/>
<line x1="96" y1="240" x2="125.5" y2="240" stroke="#C0504D"/>
<line x1="96" y1="265.5" x2="125.5" y2="265.5" stroke="#9BBB59"/>
</g>
<g font-size="12">
<text x="129.3" y="218" textLength="110" lengthAdjust="spacing">2019 Survival Curve</text>
<text x="129.3" y="244" textLength="214.5" lengthAdjust="spacing">Reduction of Mortality Rates by 81.0%</text>
<text x="129.3" y="270" textLength="146.6" lengthAdjust="spacing">Increased Life Span to 131</text>
</g>
</svg>
</body></html>
